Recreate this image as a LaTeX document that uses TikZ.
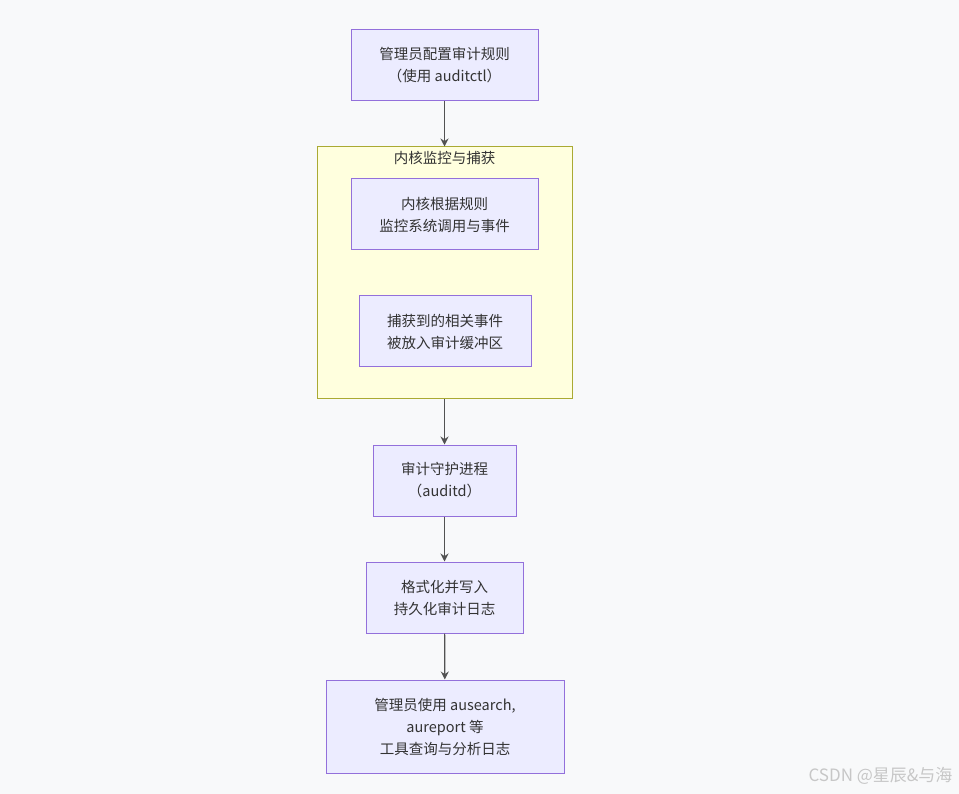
\documentclass[tikz,border=0pt]{standalone}
\usepackage{fontspec}
\newfontfamily\cjk{Noto Sans CJK SC}
\usetikzlibrary{arrows.meta}

\definecolor{boxfill}{HTML}{ECECFF}
\definecolor{boxline}{HTML}{9370DB}
\definecolor{groupfill}{HTML}{FFFFDE}
\definecolor{groupline}{HTML}{AAAA33}
\definecolor{pagebg}{HTML}{F8F9FA}
\definecolor{ink}{HTML}{333333}

\tikzset{
  stepbox/.style={draw=boxline, fill=boxfill, line width=1pt, align=center, text=ink,
    font=\cjk\fontsize{14.5}{22}\selectfont, inner sep=0pt},
  groupbox/.style={draw=groupline, fill=groupfill, line width=1pt, inner sep=0pt},
  flow/.style={draw=ink!85, line width=1.2pt, -{Stealth[length=8pt,width=8pt]}}
}

\begin{document}
\begin{tikzpicture}[x=1pt,y=-1pt]
            % page
            \fill[pagebg] (0,0) rectangle (959,794);
            \useasboundingbox (0,0) rectangle (959,794);

            % admin step
            \node[stepbox, minimum width=187pt, minimum height=71pt] (rules) at (444.5,65.5)
              {管理员配置审计规则\\（使用 auditctl）};

            % kernel group
            \node[groupbox, minimum width=255pt, minimum height=252pt] (kernel) at (444.5,273) {};
            \node[font=\cjk\fontsize{14.5}{18}\selectfont, text=ink] (kerneltitle) at (444.5,158) {内核监控与捕获};
            \node[stepbox, minimum width=187pt, minimum height=71pt] (watch) at (444.5,214.5)
              {内核根据规则\\监控系统调用与事件};
            \node[stepbox, minimum width=172pt, minimum height=71pt] (buffer) at (445,331.5)
              {捕获到的相关事件\\被放入审计缓冲区};

            % daemon and log
            \node[stepbox, minimum width=143pt, minimum height=71pt] (daemon) at (444.5,480.5)
              {审计守护进程\\（auditd）};
            \node[stepbox, minimum width=157pt, minimum height=71pt] (logfile) at (444.5,597.5)
              {格式化并写入\\持久化审计日志};
            \node[stepbox, minimum width=238pt, minimum height=93pt] (query) at (445,726.5)
              {管理员使用 ausearch,\\aureport 等\\工具查询与分析日志};

            % arrows
            \draw[flow] (rules) -- (kernel);
            \draw[flow] (kernel) -- (daemon);
            \draw[flow] (daemon) -- (logfile);
            \draw[flow] (logfile) -- (query);

            % watermark
            \node[font=\cjk\fontsize{17}{20}\selectfont, text=black!22, anchor=east] (mark) at (956,776) {CSDN @星辰\&与海};
        \end{tikzpicture}
\end{document}
